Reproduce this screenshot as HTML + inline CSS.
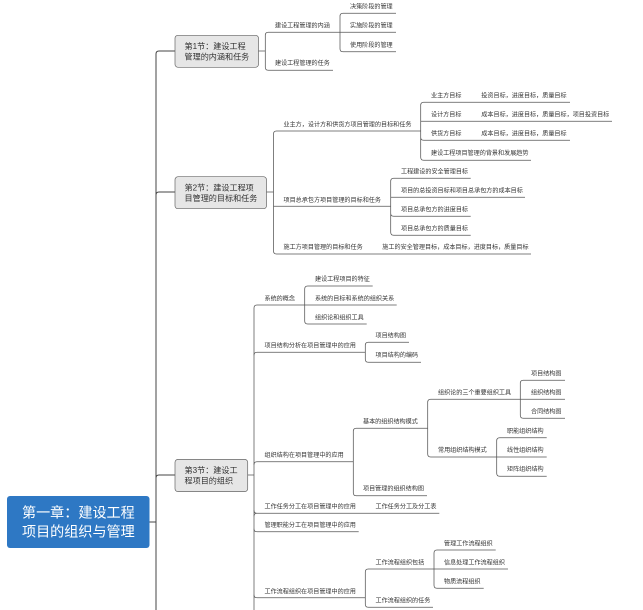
<!DOCTYPE html>
<html><head><meta charset="utf-8">
<style>
html,body{margin:0;padding:0;background:#fff;width:643px;height:610px;overflow:hidden}
svg{display:block;filter:blur(.35px)}
text{font-family:"Liberation Sans","Noto Sans CJK SC",sans-serif;fill:#333}
.t{font-size:6.1px}
.s{font-size:8.1px}
.r{font-size:14.1px;fill:#fff}
.l{fill:none;stroke:#555;stroke-width:.75}
.k{fill:none;stroke:#444;stroke-width:1}
.b{fill:#e6e6e6;stroke:#666;stroke-width:.7}
</style></head><body>
<svg width="643" height="610" viewBox="0 0 643 610" xmlns="http://www.w3.org/2000/svg">
<!-- trunk -->
<path class="k" d="M175 51H159Q156 51 156 54V610M156 195Q156 192 159 192H175M156 478Q156 475 159 475H175M149 522H156"/>
<!-- root -->
<rect x="7" y="496" width="142.5" height="52" rx="3" fill="#2e78c4"/>
<text class="r" x="22" y="517.5">第一章&#xFF1A;建设工程</text>
<text class="r" x="22" y="536.5">项目的组织与管理</text>
<!-- sections -->
<rect class="b" x="175" y="35.3" width="83.5" height="32" rx="3"/>
<text class="s" x="184.5" y="49">第1节&#xFF1A;建设工程</text>
<text class="s" x="184.5" y="59.7">管理的内涵和任务</text>
<rect class="b" x="175" y="176.7" width="91.5" height="32" rx="3"/>
<text class="s" x="184.5" y="190.3">第2节&#xFF1A;建设工程项</text>
<text class="s" x="184.5" y="201">目管理的目标和任务</text>
<rect class="b" x="175" y="459.4" width="72.7" height="32.2" rx="3"/>
<text class="s" x="184.5" y="473">第3节&#xFF1A;建设工</text>
<text class="s" x="184.5" y="483.5">程项目的组织</text>

<!-- section 1 connectors -->
<path class="l" d="M258.5 51H265.3M333 70.3H268.3Q265.3 70.3 265.3 67.3V35.3Q265.3 32.3 268.3 32.3H396"/>
<path class="l" d="M396 13.3H343Q340 13.3 340 16.3V48.7Q340 51.7 343 51.7H396"/>
<g transform="translate(0,.4)">
<text class="t" x="275" y="27.2">建设工程管理的内涵</text>
<text class="t" x="275" y="64.8">建设工程管理的任务</text>
<text class="t" x="350" y="8.2">决策阶段的管理</text>
<text class="t" x="350" y="27.2">实施阶段的管理</text>
<text class="t" x="350" y="46.5">使用阶段的管理</text>
</g>

<!-- section 2 connectors -->
<path class="l" d="M266.5 192H273.5M276.5 131H420.7M531 254H276.5Q273.5 254 273.5 251V134Q273.5 131 276.5 131M273.5 206.3H390.7"/>
<path class="l" d="M570 102.3H423.7Q420.7 102.3 420.7 105.3V157.3Q420.7 160.3 423.7 160.3H531M420.7 121.3H612M570 140.3H423.7Q420.7 140.3 420.7 137.3"/>
<path class="l" d="M470.7 178.3H393.7Q390.7 178.3 390.7 181.3V232.3Q390.7 235.3 393.7 235.3H470.7M390.7 197.3H525M470.7 216.3H393.7Q390.7 216.3 390.7 213.3"/>
<g transform="translate(0,.4)">
<text class="t" x="283.5" y="126.2">业主方&#xFF0C;设计方和供货方项目管理的目标和任务</text>
<text class="t" x="431" y="97.2">业主方目标</text>
<text class="t" x="481.3" y="97.2">投资目标&#xFF0C;进度目标&#xFF0C;质量目标</text>
<text class="t" x="431" y="116.2">设计方目标</text>
<text class="t" x="481.3" y="116.2">成本目标&#xFF0C;进度目标&#xFF0C;质量目标&#xFF0C;项目投资目标</text>
<text class="t" x="431" y="135.2">供货方目标</text>
<text class="t" x="481.3" y="135.2">成本目标&#xFF0C;进度目标&#xFF0C;质量目标</text>
<text class="t" x="431" y="154.7">建设工程项目管理的背景和发展趋势</text>
<text class="t" x="283.5" y="201.7">项目总承包方项目管理的目标和任务</text>
<text class="t" x="401" y="173.2">工程建设的安全管理目标</text>
<text class="t" x="401" y="192.2">项目的总投资目标和项目总承包方的成本目标</text>
<text class="t" x="401" y="211.2">项目总承包方的进度目标</text>
<text class="t" x="401" y="230.2">项目总承包方的质量目标</text>
<text class="t" x="283.5" y="248.7">施工方项目管理的目标和任务</text>
<text class="t" x="382.3" y="248.7">施工的安全管理目标&#xFF0C;成本目标&#xFF0C;进度目标&#xFF0C;质量目标</text>
</g>

<!-- section 3 connectors -->
<path class="l" d="M247.7 475H254M254 610V308Q254 305 257 305H396.7"/>
<path class="l" d="M372.7 286H307.7Q304.7 286 304.7 289V321Q304.7 324 307.7 324H366.7"/>
<path class="l" d="M254 355.3Q254 352.3 257 352.3H365.3"/>
<path class="l" d="M409 342.3H368.3Q365.3 342.3 365.3 345.3V359.3Q365.3 362.3 368.3 362.3H421"/>
<path class="l" d="M254 464.7Q254 461.7 257 461.7H353.3"/>
<path class="l" d="M427.7 428.3H356.3Q353.3 428.3 353.3 431.3V492.7Q353.3 495.7 356.3 495.7H427"/>
<path class="l" d="M520.3 399.3H430.7Q427.7 399.3 427.7 402.3V454Q427.7 457 430.7 457H496.7"/>
<path class="l" d="M565 380.3H523.3Q520.3 380.3 520.3 383.3V415.3Q520.3 418.3 523.3 418.3H565M520.3 399.3H565"/>
<path class="l" d="M546.7 437.7H499.7Q496.7 437.7 496.7 440.7V473.3Q496.7 476.3 499.7 476.3H546.7M496.7 457H546.7"/>
<path class="l" d="M254 510.3Q254 513.3 257 513.3H439.3M254 516.3Q254 513.3 257 513.3M254 528.7Q254 531.7 257 531.7H358.7"/>
<path class="l" d="M254 594.7Q254 597.7 257 597.7H365.3"/>
<path class="l" d="M433 607.3H368.3Q365.3 607.3 365.3 604.3V572Q365.3 569 368.3 569H434"/>
<path class="l" d="M495.7 550H437Q434 550 434 553V585.3Q434 588.3 437 588.3H483.7M434 569H508"/>
<g transform="translate(0,.4)">
<text class="t" x="264.5" y="300.2">系统的概念</text>
<text class="t" x="315" y="280.7">建设工程项目的特征</text>
<text class="t" x="315" y="300.2">系统的目标和系统的组织关系</text>
<text class="t" x="315" y="319.2">组织论和组织工具</text>
<text class="t" x="264.5" y="347.2">项目结构分析在项目管理中的应用</text>
<text class="t" x="375.5" y="337.2">项目结构图</text>
<text class="t" x="375.5" y="356.7">项目结构的编码</text>
<text class="t" x="264.5" y="456.7">组织结构在项目管理中的应用</text>
<text class="t" x="363" y="423.2">基本的组织结构模式</text>
<text class="t" x="438" y="394.2">组织论的三个重要组织工具</text>
<text class="t" x="531" y="375.2">项目结构图</text>
<text class="t" x="531" y="394.2">组织结构图</text>
<text class="t" x="531" y="413.2">合同结构图</text>
<text class="t" x="438" y="451.7">常用组织结构模式</text>
<text class="t" x="507" y="432.7">职能组织结构</text>
<text class="t" x="507" y="451.7">线性组织结构</text>
<text class="t" x="507" y="470.7">矩阵组织结构</text>
<text class="t" x="363" y="490.2">项目管理的组织结构图</text>
<text class="t" x="264.5" y="508.2">工作任务分工在项目管理中的应用</text>
<text class="t" x="375.5" y="508.2">工作任务分工及分工表</text>
<text class="t" x="264.5" y="526.7">管理职能分工在项目管理中的应用</text>
<text class="t" x="264.5" y="593.2">工作流程组织在项目管理中的应用</text>
<text class="t" x="375.5" y="564.2">工作流程组织包括</text>
<text class="t" x="444" y="545.2">管理工作流程组织</text>
<text class="t" x="444" y="564.2">信息处理工作流程组织</text>
<text class="t" x="444" y="583.2">物质流程组织</text>
<text class="t" x="375.5" y="602.2">工作流程组织的任务</text>
</g>
</svg>
</body></html>
